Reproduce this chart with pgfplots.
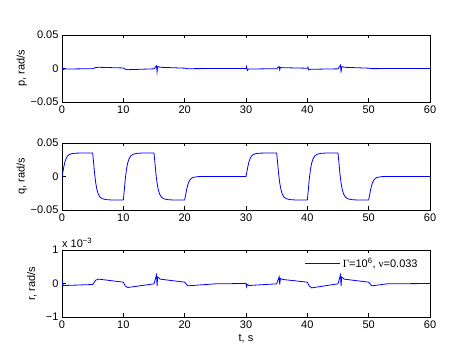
\documentclass[border=0pt]{standalone}
\usepackage{fontspec}
\setmainfont{Liberation Sans}
\newfontfamily\serf{Liberation Serif}
\usepackage{pgfplots}
\pgfplotsset{compat=1.18}
\pgfplotsset{
  mat/.style={
    width=368bp, height=67bp, scale only axis,
    xmin=0, xmax=60, xtick={0,10,...,60},
    scaled y ticks=false, scaled x ticks=false,
    tick align=inside, major tick length=3.5bp,
    tick style={black, line width=0.5bp},
    axis line style={black, line width=0.6bp},
    ticklabel style={font=\fontsize{11bp}{13bp}\selectfont},
    label style={font=\fontsize{11bp}{13bp}\selectfont},
    /pgf/number format/assume math mode=true,
    clip mode=individual,
  },
  ln/.style={color=blue, line width=0.8bp, mark=none}
}
\begin{document}
\begin{tikzpicture}
\path[use as bounding box] (0,0) rectangle (474bp,356bp);
% p
\begin{axis}[mat, at={(62bp,254bp)}, anchor=south west,
  ymin=-0.05, ymax=0.05, ytick={-0.05,0,0.05}, yticklabels={−0.05,0,0.05},
  ylabel={p, rad/s},
  ylabel style={at={(axis description cs:-0.109,0.5)}, anchor=center}]
\addplot[ln] coordinates {(0,-0.0005)(0.1,0.0015)(0.2,-0.0015)(0.4,-0.0008)(5,-0.0003)(5.5,0.0015)(6,0.0018)(10,0.0008)(10.3,-0.001)(10.7,-0.0018)(15,-0.0005)(15.4,0.004)(15.5,-0.005)(15.6,0.003)(16,0.0018)(20,0.0005)(20.5,-0.0003)(25,0)(30,0)(30.1,0.003)(30.2,-0.003)(30.4,-0.0008)(35,-0.0003)(35.4,0.003)(35.5,-0.002)(35.6,0.0015)(36,0.0012)(40,0.0004)(40.1,0.002)(40.2,-0.002)(40.5,-0.0012)(45,-0.0005)(45.4,0.005)(45.5,-0.006)(45.6,0.003)(46,0.0018)(50,0.0005)(50.5,-0.0002)(55,0)(60,0)};
\end{axis}
% q
\begin{axis}[mat, at={(62bp,146bp)}, anchor=south west,
  ymin=-0.05, ymax=0.05, ytick={-0.05,0,0.05}, yticklabels={−0.05,0,0.05},
  ylabel={q, rad/s},
  ylabel style={at={(axis description cs:-0.109,0.5)}, anchor=center}]
\addplot[ln] coordinates {
(0,0)(0.15,0.007)(0.3,0.0147)(0.5,0.0224)(0.7,0.0273)(0.9,0.0305)(1.2,0.0329)(1.6,0.0341)(2.2,0.0348)(3,0.035)
(5,0.035)(5.15,0.021)(5.3,0.0056)(5.5,-0.0098)(5.7,-0.0196)(5.9,-0.0259)(6.2,-0.0308)(6.6,-0.03325)(7.2,-0.0345)(8,-0.035)
(10,-0.035)(10.15,-0.021)(10.3,-0.0056)(10.5,0.0098)(10.7,0.0196)(10.9,0.0259)(11.2,0.0308)(11.6,0.03325)(12.2,0.0345)(13,0.035)
(15,0.035)(15.15,0.021)(15.3,0.0056)(15.5,-0.0098)(15.7,-0.0196)(15.9,-0.0259)(16.2,-0.0308)(16.6,-0.03325)(17.2,-0.0345)(18,-0.035)
(20,-0.035)(20.15,-0.028)(20.3,-0.0203)(20.5,-0.0126)(20.7,-0.0077)(20.9,-0.0046)(21.2,-0.0021)(21.6,-0.0009)(22.2,-0.0002)(23,0)
(30,0)(30.15,0.007)(30.3,0.0147)(30.5,0.0224)(30.7,0.0273)(30.9,0.0305)(31.2,0.0329)(31.6,0.0341)(32.2,0.0348)(33,0.035)
(35,0.035)(35.15,0.021)(35.3,0.0056)(35.5,-0.0098)(35.7,-0.0196)(35.9,-0.0259)(36.2,-0.0308)(36.6,-0.03325)(37.2,-0.0345)(38,-0.035)
(40,-0.035)(40.15,-0.021)(40.3,-0.0056)(40.5,0.0098)(40.7,0.0196)(40.9,0.0259)(41.2,0.0308)(41.6,0.03325)(42.2,0.0345)(43,0.035)
(45,0.035)(45.15,0.021)(45.3,0.0056)(45.5,-0.0098)(45.7,-0.0196)(45.9,-0.0259)(46.2,-0.0308)(46.6,-0.03325)(47.2,-0.0345)(48,-0.035)
(50,-0.035)(50.15,-0.028)(50.3,-0.0203)(50.5,-0.0126)(50.7,-0.0077)(50.9,-0.0046)(51.2,-0.0021)(51.6,-0.0009)(52.2,-0.0002)(53,0)
(60,0)};
\end{axis}
% r
\begin{axis}[mat, at={(62bp,39bp)}, anchor=south west,
  ymin=-1, ymax=1, ytick={-1,0,1}, yticklabels={−1,0,1},
  ylabel={r, rad/s}, xlabel={t, s},
  ylabel style={at={(axis description cs:-0.082,0.5)}, anchor=center},
  xlabel style={at={(axis description cs:0.5,-0.33)}, anchor=center},
  legend style={draw opacity=0, fill opacity=0, text opacity=1, at={(axis description cs:0.975,0.93)}, anchor=north east,
    font=\fontsize{11bp}{13bp}\selectfont, inner sep=1bp},
  legend image code/.code={\draw[draw=blue, draw opacity=1, line width=0.8bp] (0bp,0bp) -- (35bp,0bp);}]
\addplot[ln] coordinates {(0,-0.02)(0.1,0.05)(0.2,-0.07)(0.4,-0.06)(5,-0.03)(5.5,0.1)(6,0.13)(10,0.04)(10.3,-0.07)(10.7,-0.12)(15,-0.01)(15.4,0.25)(15.5,-0.08)(15.6,0.2)(16,0.13)(20,0.04)(20.5,-0.07)(25,-0.01)(30,0)(30.1,-0.1)(30.2,-0.03)(30.5,-0.06)(35,-0.01)(35.4,0.2)(35.5,-0.03)(35.6,0.15)(36,0.12)(40,0.04)(40.3,-0.07)(40.7,-0.13)(45,-0.01)(45.4,0.25)(45.5,-0.08)(45.6,0.2)(46,0.13)(50,0.04)(50.5,-0.07)(53,-0.01)(60,0)};
\addlegendentry{{\serf Γ}=10\textsuperscript{6}, {\serf ν}=0.033}
\node[anchor=south west, inner sep=0pt, font=\fontsize{11bp}{13bp}\selectfont] at (axis description cs:0,1.04) {x 10\textsuperscript{−3}};
\end{axis}
\end{tikzpicture}
\end{document}
